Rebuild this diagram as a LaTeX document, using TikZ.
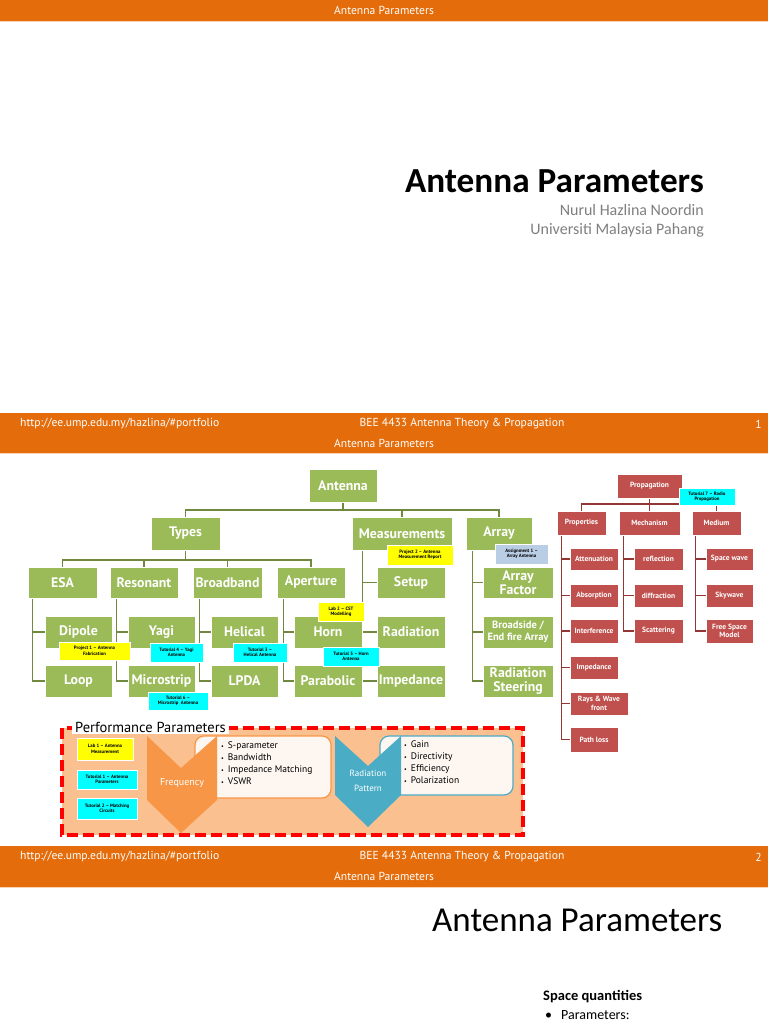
\documentclass[tikz,border=0pt]{standalone}
\usepackage{fontspec}
\setmainfont{PT Sans}
\newfontfamily\carl{Carlito}
\usetikzlibrary{shadows}
\pgfdeclarelayer{bg}
\pgfsetlayers{bg,main}
\definecolor{barorange}{HTML}{E46C0A}
\definecolor{barline}{HTML}{FAD4B4}
\definecolor{tgreen}{HTML}{9BBB59}
\definecolor{glinec}{HTML}{71893F}
\definecolor{tred}{HTML}{C0504D}
\definecolor{rlinec}{HTML}{943634}
\definecolor{nyellow}{HTML}{FFFF00}
\definecolor{ncyan}{HTML}{00FFFF}
\definecolor{nblue}{HTML}{B9CDE5}
\definecolor{forange}{HTML}{F79646}
\definecolor{fblue}{HTML}{4BACC6}
\definecolor{peach}{HTML}{FAC090}
\definecolor{dred}{HTML}{FF0000}
\definecolor{subgray}{HTML}{7F7F7F}
\definecolor{boxfill}{HTML}{FDF6F1}
\newcommand\mkG[5]{\node[gbox,minimum width=#3pt,minimum height=#4pt] (#1) at (#2) {#5};}
\newcommand\mkR[5]{\node[rbox,minimum width=#3pt,minimum height=#4pt] (#1) at (#2) {#5};}
\newcommand\mkN[6]{\node[notebox,fill=#5,minimum width=#3pt,minimum height=#4pt] (#1) at (#2) {#6};}
\newcommand\mkB{{\fontsize{6}{6}\selectfont\textbullet}\hspace{4pt}}
\begin{document}
\begin{tikzpicture}[x=1pt,y=-1pt,
  gbox/.style={rectangle, fill=tgreen, draw=white, line width=0.8pt, text=white,
    font=\bfseries\fontsize{13.8}{14.5}\selectfont, inner sep=0pt, align=center,
    drop shadow={shadow xshift=1.3pt, shadow yshift=-1.3pt, opacity=0.35}},
  rbox/.style={rectangle, fill=tred, draw=white, line width=0.5pt, text=white,
    font=\bfseries\fontsize{7.5}{8.5}\selectfont, inner sep=0pt, align=center,
    drop shadow={shadow xshift=0.8pt, shadow yshift=-0.8pt, opacity=0.25}},
  notebox/.style={rectangle, draw=white, line width=1pt, text=black,
    font=\bfseries\fontsize{4.8}{5.4}\selectfont, inner sep=0pt, align=center,
    drop shadow={shadow xshift=0.8pt, shadow yshift=-0.8pt, opacity=0.3}},
  gline/.style={draw=glinec, line width=1.6pt},
  rline/.style={draw=rlinec, line width=1.4pt},
  bartext/.style={text=white, font=\fontsize{11.6}{13}\selectfont, inner sep=0pt}]
\useasboundingbox (0,0) rectangle (768,1024);
\clip (0,0) rectangle (768,1024);
\begin{pgfonlayer}{bg}
\fill[white] (0,0) rectangle (768,1024);
\end{pgfonlayer}

% ---------- slide 1 ----------
\fill[barorange] (0,0) rectangle (768,21);
\draw[barline, line width=1pt] (0,21.5) -- (768,21.5);
\node[bartext] (hdr1) at (384,10.5) {Antenna Parameters};
\node[anchor=base east, font=\carl\bfseries\fontsize{35.2}{40}\selectfont, inner sep=0pt] (t1) at (704,193) {Antenna Parameters};
\node[anchor=base east, text=subgray, font=\carl\fontsize{16}{18}\selectfont, inner sep=0pt] (a1) at (704,215) {Nurul Hazlina Noordin};
\node[anchor=base east, text=subgray, font=\carl\fontsize{16}{18}\selectfont, inner sep=0pt] (a2) at (704,234) {Universiti Malaysia Pahang};

\fill[barorange] (0,413) rectangle (768,453);
\node[bartext, anchor=west] (url1) at (20,424) {http://ee.ump.edu.my/hazlina/\#portfolio};
\node[bartext] (course1) at (462,424) {BEE 4433 Antenna Theory \& Propagation};
\node[bartext, anchor=east] (pg1) at (762,424) {1};
\node[bartext] (hdr2) at (384,443) {Antenna Parameters};
\draw[barline, line width=1pt] (0,453.5) -- (768,453.5);

% ---------- slide 2: antenna tree ----------
\mkG{antenna}{343,485.5}{68}{33}{Antenna}
\mkG{types}{185.5,533.5}{69}{33}{Types}
\mkG{measure}{402,533.5}{100}{33}{Measurements}
\mkG{array}{499,533.5}{66}{33}{Array}
\mkG{esa}{62.5,582.5}{69}{31}{ESA}
\mkG{resonant}{144,582.5}{68}{31}{Resonant}
\mkG{broadband}{227.5,582.5}{69}{31}{Broadband}
\mkG{aperture}{311,582.5}{68}{31}{Aperture}
\mkG{setup}{411,582.5}{68}{31}{Setup}
\mkG{arrfac}{518,582.5}{70}{31}{Array\\Factor}
\mkG{dipole}{78.5,632}{67}{32}{Dipole}
\mkG{yagi}{161.5,632}{67}{32}{Yagi}
\mkG{helical}{244.5,632}{67}{32}{Helical}
\mkG{horn}{328,632}{68}{32}{Horn}
\mkG{radiation}{411,632}{68}{32}{Radiation}
\node[gbox, minimum width=70pt, minimum height=32pt, font=\bfseries\fontsize{10.5}{12.5}\selectfont] (broadside) at (518,632) {Broadside /\\End fire Array};
\mkG{loop}{78.5,681}{67}{32}{Loop}
\mkG{microstrip}{161.5,681}{67}{32}{Microstrip}
\mkG{lpda}{244.5,681}{67}{32}{LPDA}
\mkG{parabolic}{328,681}{68}{32}{Parabolic}
\mkG{impedance}{411,681}{68}{32}{Impedance}
\mkG{steering}{518,681}{70}{32}{Radiation\\Steering}

\mkN{n1}{94.5,651}{71}{18}{nyellow}{Project 1 – Antenna\\Fabrication}
\mkN{n2}{176.5,652.5}{53}{19}{ncyan}{Tutorial 4 – Yagi\\Antenna}
\mkN{n3}{260,652.5}{54}{19}{ncyan}{Tutorial 3 –\\Helical Antenna}
\mkN{n4}{178,701}{60}{18}{ncyan}{Tutorial 6 –\\Microstrip~ Antenna}
\mkN{n5}{341,611.5}{46}{19}{nyellow}{Lab 2 – CST\\Modelling}
\mkN{n6}{351,656.5}{56}{19}{ncyan}{Tutorial 5 – Horn\\Antenna}
\mkN{n7}{420,555}{66}{20}{nyellow}{Project 2 – Antenna\\Measurement Report}
\mkN{n8}{521.5,554}{53}{20}{nblue}{Assignment 1 –\\Array Antenna}

% ---------- propagation tree ----------
\mkR{prop}{649.5,486}{65}{24}{Propagation}
\mkR{properties}{581.5,523}{49}{24}{Properties}
\mkR{mechanism}{649.5,523}{61}{24}{Mechanism}
\mkR{medium}{716.5,523}{49}{24}{Medium}
\mkR{atten}{594,559}{48}{22}{Attenuation}
\mkR{absorp}{594,595.5}{48}{23}{Absorption}
\mkR{interf}{594,631}{48}{24}{Interference}
\mkR{imped}{594,667.5}{48}{23}{Impedance}
\mkR{rays}{599,703.5}{58}{23}{Rays \& Wave\\front}
\mkR{pathloss}{594,739.5}{48}{25}{Path loss}
\mkR{reflect}{658.5,559}{49}{22}{reflection}
\mkR{diffract}{658.5,595.5}{49}{23}{diffraction}
\mkR{scatter}{658.5,631}{49}{24}{Scattering}
\mkR{space}{729.5,559}{47}{22}{Space wave}
\mkR{sky}{729.5,595.5}{47}{23}{Skywave}
\mkR{free}{729.5,631}{47}{24}{Free Space\\Model}
\mkN{n9}{707,496.5}{56}{17}{ncyan}{Tutorial 7 – Radio\\Propagation}

% ---------- connectors ----------
\begin{pgfonlayer}{bg}
\draw[gline] (antenna.south) -- (antenna.south |- 0,510);
\draw[gline] (types.north) |- (array.north |- 0,510) -- (array.north);
\draw[gline] (measure.north) -- (measure.north |- 0,510);
\draw[gline] (esa.north) |- (aperture.north |- 0,560) -- (aperture.north);
\draw[gline] (types.south) -- (types.south |- 0,560);
\draw[gline] (resonant.north) -- (resonant.north |- 0,560);
\draw[gline] (broadband.north) -- (broadband.north |- 0,560);
\coordinate (sE) at ([xshift=5pt]esa.south west);
\draw[gline] (sE) |- (loop.west);
\draw[gline] (sE |- dipole.west) -- (dipole.west);
\coordinate (sR) at ([xshift=7pt]resonant.south west);
\draw[gline] (sR) |- (microstrip.west);
\draw[gline] (sR |- yagi.west) -- (yagi.west);
\coordinate (sB) at ([xshift=7pt]broadband.south west);
\draw[gline] (sB) |- (lpda.west);
\draw[gline] (sB |- helical.west) -- (helical.west);
\coordinate (sA) at ([xshift=7pt]aperture.south west);
\draw[gline] (sA) |- (parabolic.west);
\draw[gline] (sA |- horn.west) -- (horn.west);
\coordinate (sM) at ([xshift=11pt]measure.south west);
\draw[gline] (sM) |- (impedance.west);
\draw[gline] (sM |- radiation.west) -- (radiation.west);
\draw[gline] (sM |- setup.west) -- (setup.west);
\coordinate (sY) at ([xshift=7pt]array.south west);
\draw[gline] (sY) |- (steering.west);
\draw[gline] (sY |- broadside.west) -- (broadside.west);
\draw[gline] (sY |- arrfac.west) -- (arrfac.west);

\draw[rline] (prop.south) -- (prop.south |- 0,504);
\draw[rline] (properties.north) |- (medium.north |- 0,504) -- (medium.north);
\draw[rline] (mechanism.north) -- (mechanism.north |- 0,504);
\coordinate (sP) at ([xshift=5pt]properties.south west);
\draw[rline] (sP) |- (pathloss.west);
\foreach \c in {atten,absorp,interf,imped,rays} \draw[rline] (sP |- \c.west) -- (\c.west);
\coordinate (sQ) at ([xshift=5pt]mechanism.south west);
\draw[rline] (sQ) |- (scatter.west);
\foreach \c in {reflect,diffract} \draw[rline] (sQ |- \c.west) -- (\c.west);
\coordinate (sD) at ([xshift=4pt]medium.south west);
\draw[rline] (sD) |- (free.west);
\foreach \c in {space,sky} \draw[rline] (sD |- \c.west) -- (\c.west);
\end{pgfonlayer}

% ---------- performance parameters ----------
\draw[dred, line width=3.5pt, dash pattern=on 11pt off 5pt, fill=peach] (62,728) rectangle (523,835);
\node[fill=white, anchor=west, inner xsep=3pt, inner ysep=2pt, font=\fontsize{14.5}{16}\selectfont] (ptitle) at (72,727) {Performance Parameters};
\mkN{n10}{105,749}{56}{22}{nyellow}{Lab 1 – Antenna\\Measurement}
\mkN{n11}{107,779.5}{60}{19}{ncyan}{Tutorial 1 – Antenna\\Parameters}
\mkN{n12}{107,808.5}{60}{21}{ncyan}{Tutorial 2 – Matching\\Circuits}

\draw[forange, fill=boxfill, line width=1.2pt, rounded corners=9pt] (195,736) rectangle (331,798);
\fill[forange] (147,736) -- (181,768) -- (217,736) -- (217,800) -- (181,833) -- (147,800) -- cycle;
\node[text=white, font=\fontsize{10}{12}\selectfont] (freq) at (182,783) {Frequency};
\node[anchor=north west, align=left, inner sep=0pt, font=\fontsize{9.5}{12}\selectfont] (flist) at (221,742) {\mkB S-parameter\\\mkB Bandwidth\\\mkB Impedance Matching\\\mkB VSWR};

\draw[fblue, fill=boxfill, line width=1.2pt, rounded corners=9pt] (380,736) rectangle (513,795);
\fill[fblue] (335,736) -- (368,766) -- (401,736) -- (401,795) -- (368,827) -- (335,795) -- cycle;
\node[text=white, align=center, font=\fontsize{9}{15}\selectfont] (radp) at (368,780.5) {Radiation\\Pattern};
\node[anchor=north west, align=left, inner sep=0pt, font=\fontsize{9.5}{12}\selectfont] (rlist) at (404,741) {\mkB Gain\\\mkB Directivity\\\mkB Efficiency\\\mkB Polarization};

% ---------- footer 2 / slide 3 ----------
\fill[barorange] (0,846) rectangle (768,887);
\node[bartext, anchor=west] (url2) at (20,857) {http://ee.ump.edu.my/hazlina/\#portfolio};
\node[bartext] (course2) at (462,857) {BEE 4433 Antenna Theory \& Propagation};
\node[bartext, anchor=east] (pg2) at (762,857) {2};
\node[bartext] (hdr3) at (384,876) {Antenna Parameters};
\draw[barline, line width=1pt] (0,887.5) -- (768,887.5);

\node[anchor=base west, font=\carl\fontsize{35}{40}\selectfont, inner sep=0pt] (t3) at (432,931) {Antenna Parameters};
\node[anchor=base west, font=\carl\bfseries\fontsize{14.5}{17}\selectfont, inner sep=0pt] (sq) at (543,1000) {Space quantities};
\node[anchor=base west, font=\carl\fontsize{14}{17}\selectfont, inner sep=0pt] (par) at (545,1019) {\textbullet\hspace{9pt}Parameters:};
\end{tikzpicture}
\end{document}
